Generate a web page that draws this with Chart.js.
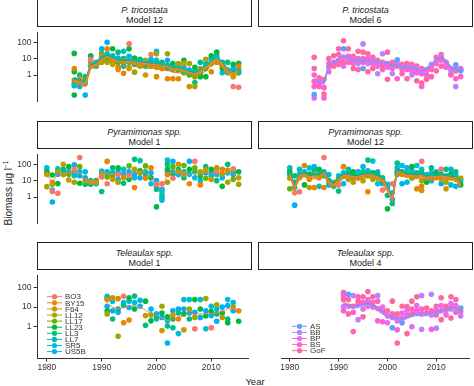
<!DOCTYPE html>
<html>
<head>
<meta charset="utf-8">
<script src="https://cdn.jsdelivr.net/npm/chart.js@4.4.1/dist/chart.umd.min.js"></script>
<style>
  body { margin: 0; width: 474px; height: 386px; position: relative; overflow: hidden; background: #fff;
         font-family: 'Liberation Sans', Arial, sans-serif; color: #1a1a1a; }
  canvas { position: absolute; }
  .strip { position: absolute; box-sizing: border-box; border: 1.5px solid #222; background: #fff;
           text-align: center; font-size: 9px; line-height: 10px; padding-top: 4.5px; height: 28px; }
  .strip i { display: block; }
  #ylab { position: absolute; left: 8px; top: 193px; transform: translate(-50%, -50%) rotate(-90deg);
          font-size: 10px; white-space: nowrap; }
  #ylab sup { font-size: 6.5px; }
  #xlab { position: absolute; left: 255px; top: 381px; transform: translate(-50%, -50%); font-size: 9.5px; }
</style>
</head>
<body>
<div id="ylab">Biomass µg l<sup>−1</sup></div>
<div id="xlab">Year</div>

<script>
// Stations and colours (ggplot hue palette, 15 stations)
const westStations = ['BO3', 'BY15', 'F64', 'LL12', 'LL17', 'LL23', 'LL3', 'LL7', 'SR5', 'US5B'];
const westColors = ['#F8766D', '#E58700', '#C99800', '#A3A500', '#6BB100', '#00BA38', '#00BF7D', '#00C0AF', '#00BCD8', '#00B0F6'];
const eastStations = ['AS', 'BB', 'BP', 'BS', 'GoF'];
const eastColors = ['#619CFF', '#B983FF', '#E76BF3', '#FD61D1', '#FF67A4'];

const xTicks = [1980, 1990, 2000, 2010];
const yTicks = [1, 10, 100];
const yTickLabels = ['1', '10', '100'];

const years85 = [1985,1986,1987,1988,1989,1990,1991,1992,1993,1994,1995,1996,1997,1998,1999,2000,2001,2002,2003,2004,2005,2006,2007,2008,2009,2010,2011,2012,2013,2014,2015];
const years80 = [1980,1981,1982,1983,1984,1985,1986,1987,1988,1989,1990,1991,1992,1993,1994,1995,1996,1997,1998,1999,2000,2001,2002,2003,2004,2005,2006,2007,2008,2009,2010,2011,2012,2013,2014,2015];
const years91 = [1991,1992,1993,1994,1995,1996,1997,1998,1999,2000,2001,2002,2003,2004,2005,2006,2007,2008,2009,2010,2011,2012,2013,2014,2015];

// Observations: [year, station index, biomass]
const triLeftObs = [
  [1985,5,21],[1985,1,2.5],[1985,5,1.6],[1985,8,0.3],[1985,9,0.22],[1985,5,0.06],[1985,3,0.5],
  [1986,6,1],[1986,2,0.45],[1986,9,0.2],[1986,8,0.35],[1986,1,0.6],
  [1987,6,0.8],[1987,8,0.3],[1987,9,0.06],[1987,4,0.5],
  [1988,5,15],[1988,0,9],[1988,3,6],[1988,8,3.5],[1988,9,13],[1988,2,4],
  [1989,9,4.4],[1989,6,3.5],[1989,4,5],[1989,8,6],
  [1990,9,40],[1990,2,16],[1990,6,8],[1990,8,12],[1990,5,20],[1990,3,6],
  [1991,9,100],[1991,1,40],[1991,8,20],[1991,6,10],[1991,3,6],[1991,5,14],[1991,7,8],
  [1992,5,40],[1992,9,15],[1992,8,8],[1992,2,4.5],[1992,6,12],[1992,3,7],
  [1993,6,25],[1993,9,11],[1993,1,2.2],[1993,3,3],[1993,8,7],[1993,5,6],
  [1994,8,28],[1994,5,10],[1994,1,1.3],[1994,9,3.5],[1994,6,6],[1994,3,8],
  [1995,0,80],[1995,5,40],[1995,9,14],[1995,6,6],[1995,2,2.5],[1995,8,9],
  [1996,5,11],[1996,9,6],[1996,3,1.5],[1996,8,8],[1996,6,4.5],[1996,2,6],
  [1997,6,9],[1997,8,6],[1997,2,3.5],[1997,9,7],[1997,5,4.5],
  [1998,3,8],[1998,9,5],[1998,2,1],[1998,8,6],[1998,6,3.5],[1998,5,7],
  [1999,0,18],[1999,9,9],[1999,5,5],[1999,8,6],[1999,3,3.5],
  [2000,9,28],[2000,3,20],[2000,8,8],[2000,1,0.8],[2000,6,5],[2000,2,3],
  [2001,6,6],[2001,9,3],[2001,8,5],[2001,3,4],[2001,1,2.5],
  [2002,3,20],[2002,9,8],[2002,8,2.5],[2002,1,0.6],[2002,6,4],[2002,5,3],
  [2003,5,5],[2003,9,2.2],[2003,1,0.6],[2003,8,3.5],[2003,3,2.5],
  [2004,3,5],[2004,8,2.2],[2004,1,0.6],[2004,9,3.5],[2004,6,2],
  [2005,5,8],[2005,9,2.2],[2005,6,1.4],[2005,8,3],[2005,2,5],
  [2006,3,5],[2006,8,1.4],[2006,2,0.2],[2006,9,2],[2006,5,1],
  [2007,5,3],[2007,9,1.2],[2007,3,0.2],[2007,6,0.35],[2007,8,1.8],[2007,4,0.8],
  [2008,6,6],[2008,9,1.8],[2008,5,0.8],[2008,8,1.3],[2008,3,2.5],
  [2009,3,9],[2009,8,3.5],[2009,5,0.8],[2009,9,5],[2009,6,2.5],
  [2010,5,15],[2010,9,8],[2010,1,1.6],[2010,8,11],[2010,3,5],
  [2011,5,25],[2011,8,11],[2011,3,6],[2011,9,15],[2011,6,9],
  [2012,9,5],[2012,5,2.7],[2012,8,1.4],[2012,3,4],[2012,6,6],
  [2013,6,6],[2013,9,1.4],[2013,8,2],[2013,1,1.8],
  [2014,5,4.5],[2014,2,0.8],[2014,0,0.2],[2014,8,1.5],[2014,9,2.5],
  [2015,5,5.3],[2015,1,3.5],[2015,6,1.4],[2015,0,0.18],[2015,8,2]
];

const triRightObs = [
  [1985,4,12],[1985,4,2.5],[1985,3,1],[1985,4,0.42],[1985,3,0.2],[1985,0,0.065],[1985,2,0.04],
  [1986,4,0.67],[1986,3,0.4],[1986,4,0.25],[1986,3,0.2],
  [1987,4,0.55],[1987,3,0.17],[1987,4,0.07],[1987,3,0.04],
  [1988,4,10],[1988,3,5],[1988,4,3],[1988,2,1.6],
  [1989,4,15],[1989,3,6],[1989,4,3.5],
  [1990,3,40],[1990,4,18],[1990,3,8],[1990,4,4.5],
  [1991,4,125],[1991,0,40],[1991,3,12],[1991,4,6],[1991,2,3.5],
  [1992,4,40],[1992,3,14],[1992,4,6],[1992,2,9],
  [1993,4,14],[1993,3,5],[1993,4,2.5],[1993,2,8],
  [1994,4,28],[1994,3,10],[1994,4,2.2],[1994,1,5],
  [1995,1,80],[1995,4,25],[1995,0,2.5],[1995,3,6],[1995,4,10],
  [1996,4,20],[1996,3,10],[1996,4,1.6],[1996,2,5],
  [1997,4,12],[1997,3,5],[1997,4,2.5],[1997,1,7],
  [1998,4,8],[1998,3,3.5],[1998,1,1.2],[1998,2,5],
  [1999,1,20],[1999,4,6],[1999,3,2.2],[1999,4,4],
  [2000,4,25],[2000,3,5],[2000,4,0.55],[2000,2,3],
  [2001,4,6],[2001,3,2.5],[2001,1,1.2],[2001,4,4],
  [2002,0,8.5],[2002,4,3.5],[2002,3,0.6],[2002,2,5],
  [2003,4,4.5],[2003,3,2.2],[2003,4,1.2],[2003,2,3],
  [2004,4,5],[2004,3,2.2],[2004,4,0.6],[2004,1,3],
  [2005,4,4.5],[2005,3,1.8],[2005,1,1],[2005,2,3],
  [2006,4,3.5],[2006,3,1.4],[2006,4,0.45],[2006,2,2.5],
  [2007,4,2.5],[2007,3,1.2],[2007,4,0.33],[2007,3,0.2],[2007,1,1.8],
  [2008,4,2.2],[2008,3,1],[2008,4,0.55],[2008,2,1.8],
  [2009,1,4.5],[2009,4,2.2],[2009,3,0.8],[2009,4,3],
  [2010,4,12],[2010,3,5],[2010,4,1.8],[2010,2,7],
  [2011,4,18],[2011,3,8],[2011,4,3.5],[2011,2,12],
  [2012,4,6],[2012,3,3],[2012,2,4],
  [2013,4,2.5],[2013,3,1],[2013,4,1.2],[2013,1,2],
  [2014,0,4.2],[2014,4,2.5],[2014,1,0.2],[2014,3,0.6],[2014,4,1.8],
  [2015,0,1.8],[2015,4,2.5],[2015,3,0.8],[2015,2,2]
];

const pyrLeftObs = [
  [1980,8,60],[1980,5,35],[1980,2,24],[1980,3,4.3],[1980,7,30],
  [1981,1,8],[1981,8,2.7],[1981,0,2.2],[1981,9,0.5],[1981,5,22],[1981,3,6],
  [1982,7,53],[1982,3,35],[1982,5,6.6],[1982,0,1.7],[1982,9,25],
  [1983,2,100],[1983,6,50],[1983,3,24],[1983,8,35],
  [1984,5,72],[1984,9,35],[1984,2,11],[1984,4,25],
  [1985,9,92],[1985,0,50],[1985,7,20],[1985,3,8],[1985,8,30],
  [1986,0,260],[1986,4,72],[1986,9,20],[1986,5,7],[1986,8,35],
  [1987,8,35],[1987,3,10],[1987,6,6],[1987,9,15],
  [1988,8,10],[1988,2,8],[1988,6,6],
  [1989,5,10],[1989,8,6.5],[1989,2,8],
  [1990,8,39],[1990,6,2.2],[1990,0,17],[1990,3,25],
  [1991,1,150],[1991,9,35],[1991,4,17],[1991,0,6.5],[1991,7,25],
  [1992,6,60],[1992,8,30],[1992,2,12],[1992,4,20],
  [1993,5,60],[1993,0,24],[1993,9,12],[1993,3,8],[1993,8,35],
  [1994,8,50],[1994,2,15],[1994,6,7],[1994,9,25],
  [1995,4,80],[1995,9,35],[1995,5,12],[1995,0,20],
  [1996,6,200],[1996,3,50],[1996,8,15],[1996,1,3.8],[1996,9,25],
  [1997,7,167],[1997,5,40],[1997,9,15],[1997,3,30],
  [1998,4,80],[1998,8,35],[1998,1,14],[1998,6,25],
  [1999,1,60],[1999,9,30],[1999,8,6.5],[1999,5,15],
  [2000,9,10],[2000,8,4.5],[2000,6,3],[2000,5,0.25],[2000,0,6],
  [2001,0,6.5],[2001,9,3],[2001,8,2.2],[2001,7,1.3],[2001,8,0.9],[2001,9,0.65],
  [2002,8,180],[2002,6,100],[2002,5,50],[2002,1,24],[2002,3,8],[2002,9,35],
  [2003,9,150],[2003,4,72],[2003,8,35],[2003,0,14],[2003,6,25],
  [2004,2,100],[2004,6,50],[2004,9,24],[2004,3,35],
  [2005,4,85],[2005,8,35],[2005,6,15],[2005,2,25],
  [2006,9,150],[2006,5,50],[2006,1,6.5],[2006,8,25],
  [2007,0,150],[2007,4,60],[2007,8,15],[2007,6,35],
  [2008,3,35],[2008,8,10],[2008,1,5.5],[2008,5,20],
  [2009,6,72],[2009,9,30],[2009,4,14],[2009,2,45],
  [2010,5,50],[2010,9,30],[2010,2,12],[2010,8,20],
  [2011,3,60],[2011,8,24],[2011,6,10],[2011,0,35],
  [2012,1,50],[2012,9,15],[2012,5,4.5],[2012,3,25],
  [2013,6,100],[2013,8,30],[2013,3,8],[2013,2,45],
  [2014,0,53],[2014,9,24],[2014,4,12],[2014,7,35],
  [2015,5,35],[2015,2,15],[2015,3,6]
];

const pyrRightObs = [
  [1980,8,60],[1980,5,35],[1980,3,14],[1980,4,3.2],[1980,7,25],
  [1981,6,20],[1981,8,3.8],[1981,0,1.8],[1981,9,0.32],[1981,5,8],
  [1982,7,50],[1982,1,15],[1982,0,2.1],[1982,8,25],
  [1983,2,85],[1983,9,35],[1983,5,5.5],[1983,6,25],
  [1984,8,60],[1984,1,12],[1984,2,3.8],[1984,5,25],
  [1985,9,72],[1985,3,24],[1985,1,3.8],[1985,6,40],
  [1986,5,50],[1986,2,15],[1986,8,4.5],[1986,7,25],
  [1987,0,260],[1987,9,35],[1987,1,3.8],[1987,6,20],
  [1988,8,24],[1988,5,10],[1988,9,5.5],
  [1989,9,6.5],[1989,6,4.5],[1989,3,8],
  [1990,8,20],[1990,0,5.5],[1990,6,2.3],[1990,5,12],
  [1991,1,72],[1991,6,20],[1991,9,6.5],[1991,8,30],
  [1992,7,50],[1992,5,24],[1992,3,12],[1992,9,35],
  [1993,5,35],[1993,8,15],[1993,2,8],[1993,6,25],
  [1994,9,35],[1994,3,14],[1994,8,25],
  [1995,8,72],[1995,5,24],[1995,2,10],[1995,6,35],
  [1996,6,180],[1996,9,40],[1996,1,2.1],[1996,5,20],
  [1997,8,160],[1997,5,30],[1997,3,12],[1997,6,25],
  [1998,9,35],[1998,2,14],[1998,8,6.5],[1998,5,22],
  [1999,6,15],[1999,8,6.5],[1999,0,2.7],[1999,5,10],
  [2000,9,3.8],[2000,6,1.3],[2000,5,0.19],[2000,8,6],
  [2001,0,6.5],[2001,8,1.8],[2001,9,0.72],[2001,6,0.4],
  [2002,6,120],[2002,9,60],[2002,8,24],[2002,5,35],
  [2003,8,85],[2003,5,35],[2003,9,6.5],[2003,3,25],
  [2004,9,60],[2004,1,24],[2004,8,8],[2004,6,30],
  [2005,5,72],[2005,9,30],[2005,3,14],[2005,8,40],
  [2006,8,85],[2006,6,30],[2006,1,3.2],[2006,9,20],
  [2007,0,150],[2007,8,50],[2007,3,10],[2007,1,4.5],[2007,2,2.5],[2007,6,30],
  [2008,9,24],[2008,5,8],[2008,8,15],
  [2009,6,60],[2009,1,15],[2009,9,10],[2009,8,30],
  [2010,8,35],[2010,3,15],[2010,5,25],
  [2011,0,50],[2011,2,12],[2011,9,6.5],[2011,6,25],
  [2012,6,50],[2012,3,8],[2012,2,3.2],[2012,8,20],
  [2013,9,50],[2013,3,15],[2013,8,5.5],[2013,5,25],
  [2014,6,35],[2014,2,12],[2014,8,4.5],[2014,9,20],
  [2015,3,14],[2015,5,5.5],[2015,8,10]
];

const telLeftObs = [
  [1991,8,35],[1991,1,24],[1991,9,11],[1991,5,6.5],[1991,3,4.5],[1991,6,28],
  [1992,2,30],[1992,9,6.5],[1992,6,2.5],[1992,8,20],
  [1993,1,27],[1993,9,5.5],[1993,3,0.33],[1993,6,8],
  [1994,0,35],[1994,8,17],[1994,1,1.6],[1994,6,12],
  [1995,5,30],[1995,9,9.5],[1995,1,2.2],[1995,8,20],
  [1996,6,36],[1996,8,17],[1996,5,8],
  [1997,9,22],[1997,8,11],
  [1998,5,20],[1998,2,3.7],[1998,6,1.2],
  [1999,9,8],[1999,5,2],[1999,3,4],
  [2000,9,4.5],[2000,8,2.5],[2000,6,3],
  [2001,3,11],[2001,9,3],[2001,2,0.65],[2001,5,5],
  [2002,5,3.2],[2002,6,1.1],[2002,9,0.15],[2002,8,2],
  [2003,9,6.5],[2003,5,2.5],[2003,6,0.9],[2003,2,4],
  [2004,9,8],[2004,1,2.5],[2004,8,0.45],[2004,6,5],
  [2005,8,24],[2005,5,4.5],[2005,2,0.7],[2005,9,8],
  [2006,8,24],[2006,3,8],[2006,6,2.5],[2006,9,5],
  [2007,5,24],[2007,9,5.5],[2007,0,0.8],[2007,3,3],
  [2008,8,24],[2008,5,8],[2008,9,3],
  [2009,3,27],[2009,9,6.5],[2009,8,0.8],[2009,5,3.5],
  [2010,8,11],[2010,9,3.7],[2010,0,0.9],[2010,5,6],
  [2011,3,13],[2011,6,4.5],[2011,9,1.9],[2011,8,8],
  [2012,9,10],[2012,5,5],[2012,2,3],
  [2013,8,24],[2013,6,2.5],[2013,5,1.6],[2013,9,12],
  [2014,8,17],[2014,9,6.5],[2014,3,10],
  [2015,1,6.5],[2015,5,1.9]
];

const telRightObs = [
  [1991,4,55],[1991,3,38],[1991,4,24],[1991,2,10.5],[1991,3,6.5],
  [1992,0,45],[1992,4,24],[1992,3,11],[1992,4,4.5],
  [1993,1,38],[1993,4,11],[1993,3,5.5],[1993,4,0.57],
  [1994,4,33],[1994,3,13],[1994,1,2.3],[1994,4,20],
  [1995,4,33],[1995,3,17],[1995,4,3.2],[1995,2,8],
  [1996,4,62],[1996,3,24],[1996,4,11],[1996,2,18],
  [1997,4,33],[1997,3,17],[1997,2,10],
  [1998,1,38],[1998,4,8.5],[1998,3,2],[1998,4,20],
  [1999,4,6.5],[1999,3,1.8],[1999,2,10],
  [2000,4,6.5],[2000,3,3.5],[2000,2,1.6],
  [2001,4,20],[2001,3,4.5],[2001,0,0.9],[2001,2,3],
  [2002,4,4.5],[2002,3,0.7],[2002,4,0.15],[2002,2,2],
  [2003,4,11],[2003,3,2.8],[2003,0,1.6],[2003,2,5],
  [2004,4,10.5],[2004,3,4],[2004,4,0.45],[2004,2,7],
  [2005,4,20],[2005,3,4.5],[2005,2,1],[2005,4,8],
  [2006,4,33],[2006,3,6.5],[2006,2,12],
  [2007,1,38],[2007,4,4.5],[2007,1,0.75],[2007,3,8],
  [2008,4,9],[2008,3,5],
  [2009,1,45],[2009,4,6.5],[2009,3,0.75],[2009,2,4],
  [2010,4,11],[2010,3,4],[2010,1,0.85],[2010,2,7],
  [2011,4,30],[2011,3,6.5],[2011,4,2.3],[2011,2,12],
  [2012,4,11],[2012,3,4],[2012,2,7],
  [2013,4,33],[2013,3,8],[2013,4,2.8],[2013,2,15],
  [2014,4,24],[2014,3,5.5],[2014,2,12],
  [2015,0,9],[2015,1,3.5],[2015,4,6]
];

// Fitted model lines, one row per station (or a single row for Model 1)
const triLeftFit = [
  [0.5,0.4,0.3,3.5,4.5,10,14,10,7,6.5,7,6,5.5,5,4.5,4.5,3.5,3.5,2.5,2.4,2,1.5,1.2,1.8,3,6,10,5,1.9,1.4,1.8],
  [0.3,0.25,0.2,2.5,3,6,8,6,4,3.5,3.8,3.3,3,2.8,2.6,2.6,2,2,1.5,1.4,1.2,0.9,0.75,1.1,1.8,3.6,6,3,1.1,0.85,1.1],
  [0.4,0.3,0.25,3,3.8,8,11,8,5.5,5,5.5,4.8,4.3,4,3.6,3.6,2.8,2.8,2,1.9,1.6,1.2,1,1.4,2.4,4.8,8,4,1.5,1.1,1.5],
  [0.45,0.35,0.3,3.3,4.2,9,12,9,6.3,5.7,6.2,5.3,4.8,4.5,4,4,3.2,3,2.2,2.1,1.8,1.3,1.1,1.6,2.7,5.4,9,4.5,1.7,1.25,1.6],
  [0.5,0.38,0.32,3.6,4.6,10,13,9.5,6.8,6.1,6.6,5.7,5.2,4.8,4.3,4.3,3.4,3.3,2.4,2.3,1.9,1.4,1.15,1.7,2.9,5.8,9.5,4.8,1.8,1.35,1.7],
  [0.55,0.42,0.35,4,5,11,15,11,7.5,6.8,7.3,6.3,5.8,5.3,4.8,4.8,3.8,3.7,2.7,2.5,2.1,1.6,1.3,1.9,3.2,6.4,10.5,5.3,2,1.5,1.9],
  [0.6,0.45,0.38,4.3,5.4,12,16,12,8,7.3,7.8,6.8,6.2,5.7,5.2,5.2,4.1,4,2.9,2.7,2.3,1.7,1.4,2,3.4,6.8,11,5.6,2.1,1.6,2],
  [0.62,0.47,0.4,4.5,5.6,12.5,17,12.5,8.5,7.7,8.2,7.1,6.5,6,5.4,5.4,4.3,4.2,3,2.8,2.4,1.8,1.5,2.1,3.6,7.2,11.5,5.9,2.2,1.7,2.1],
  [0.65,0.5,0.42,4.7,5.9,13,18,13,9,8.2,8.7,7.5,6.9,6.3,5.7,5.7,4.5,4.4,3.2,3,2.5,1.9,1.55,2.2,3.8,7.6,12,6.2,2.3,1.8,2.2],
  [0.7,0.55,0.45,5,6.3,14,19,14,9.5,8.6,9.2,8,7.3,6.7,6,6,4.8,4.6,3.4,3.2,2.7,2,1.65,2.3,4,8,13,6.5,2.4,1.9,2.3]
];

const triRightFit = [
  [0.55,0.42,0.34,4.2,6,9.5,15.5,10.8,8.4,7.8,8.4,7.8,7.2,6,6,5.4,4.2,4.2,3.4,3.1,2.9,2.4,1.9,2.4,4.2,8.4,13,7.2,3,2.2,2.9],
  [0.6,0.47,0.38,4.7,6.7,10.7,17,12,9.4,8.7,9.4,8.7,8,6.7,6.7,6,4.7,4.7,3.7,3.5,3.2,2.7,2.1,2.7,4.7,9.4,14.7,8,3.3,2.4,3.2],
  [0.5,0.39,0.31,3.9,5.6,9,14.5,10,7.8,7.3,7.8,7.3,6.7,5.6,5.6,5,3.9,3.9,3.1,2.9,2.7,2.2,1.8,2.2,3.9,7.8,12.3,6.7,2.8,2,2.7],
  [0.47,0.37,0.29,3.7,5.3,8.5,13.7,9.5,7.4,6.8,7.4,6.8,6.3,5.3,5.3,4.7,3.7,3.7,2.9,2.7,2.5,2.1,1.7,2.1,3.7,7.4,11.6,6.3,2.6,1.9,2.5],
  [0.45,0.35,0.28,3.5,5,8,13,9,7,6.5,7,6.5,6,5,5,4.5,3.5,3.5,2.8,2.6,2.4,2,1.6,2,3.5,7,11,6,2.5,1.8,2.4]
];

const pyrLeftFit = [
  [25,7.5,28,30,30,30,32,10,8,12,25,28,25,26,25,26,28,38,30,16,5.3,3,24,32,33,33,22,32,18,30,30,30,30,28,28,14]
];

const pyrRightFit = [
  [26,4,21,26,17,19,19,30,8.5,5.5,12,21,21,17,17,21,24,21,17,12,3.3,0.8,39,30,21,21,19,21,15,19,17,19,17,15,15,5.5],
  [18,2.7,14,18,12,13,13,21,6,3.9,8.4,14,14,12,12,14,17,14,12,8.4,2.3,0.55,27,21,15,15,13,15,11,13,12,13,12,11,11,3.9],
  [21,3.2,17,21,14,15,15,25,7,4.6,10,17,17,14,14,17,20,17,14,10,2.7,0.63,32,25,18,18,15,18,13,15,14,15,14,13,13,4.6],
  [24,3.6,19,24,16,18,18,28,8,5.2,11,19,19,16,16,19,22,19,16,11,3,0.72,36,28,20,20,18,20,14,18,16,18,16,14,14,5.2],
  [27,4,22,27,18,20,20,31,9,5.8,12.5,22,22,18,18,22,25,22,18,12.5,3.4,0.8,40,31,22,22,20,22,16,20,18,20,18,16,16,5.8],
  [30,4.5,24,30,20,22,22,35,10,6.5,14,24,24,20,20,24,28,24,20,14,3.8,0.9,45,35,25,25,22,25,18,22,20,22,20,18,18,6.5],
  [32,4.8,26,32,21,23,23,37,10.5,7,15,26,26,21,21,26,30,26,21,15,4,0.95,48,37,26,26,23,26,19,23,21,23,21,19,19,7],
  [33,5,27,33,22,24,24,39,11,7.2,15.5,27,27,22,22,27,31,27,22,15.5,4.2,1,50,39,28,28,24,28,20,24,22,24,22,20,20,7.2],
  [35,5.3,28,35,23,26,26,41,11.5,7.6,16,28,28,23,23,28,33,28,23,16,4.4,1.05,52,41,29,29,26,29,21,26,23,26,23,21,21,7.6],
  [36,5.5,29,36,24,27,27,42,12,8,17,29,29,24,24,29,34,29,24,17,4.6,1.1,54,42,30,30,27,30,22,27,24,27,24,22,22,8]
];

const telLeftFit = [
  [15,10,8,10,11,12,10,7,4.5,3.7,2.8,2,2.3,3,3.6,4.6,4.6,4.5,4.6,4.8,5,6,8.5,7.5,6.5]
];

const telRightFit = [
  [14,11.6,10.7,12.4,14,14.9,12.4,8.3,5.4,3.7,3.1,2.7,2.5,3.1,4,4.5,4.5,4.5,5,5.4,6.2,7.4,9.1,8.3,6.6],
  [11.5,9.5,8.8,10.2,11.5,12.2,10.2,6.8,4.4,3.1,2.6,2.2,2,2.6,3.3,3.7,3.7,3.7,4.1,4.4,5.1,6.1,7.5,6.8,5.4],
  [13,10.8,10,11.6,13,13.9,11.6,7.7,5,3.5,2.9,2.5,2.3,2.9,3.7,4.2,4.2,4.2,4.6,5,5.8,6.9,8.5,7.7,6.2],
  [15,12.5,11.5,13.3,15,16,13.3,8.9,5.8,4,3.4,2.9,2.7,3.4,4.3,4.9,4.9,4.9,5.3,5.8,6.7,8,9.8,8.9,7.1],
  [17,14,13,15,17,18,15,10,6.5,4.5,3.8,3.3,3,3.8,4.8,5.5,5.5,5.5,6,6.5,7.5,9,11,10,8]
];

// Panel layout
const FONT = "'Liberation Sans', Arial, sans-serif";
const panels = [
  { species: 'P. tricostata', model: 'Model 12', left: 37, top: 28, obs: triLeftObs, fit: triLeftFit, years: years85, side: 'L', group: 'W', row: 0 },
  { species: 'P. tricostata', model: 'Model 6', left: 258, top: 28, obs: triRightObs, fit: triRightFit, years: years85, side: 'R', group: 'E', row: 0 },
  { species: 'Pyramimonas spp.', model: 'Model 1', left: 37, top: 150, obs: pyrLeftObs, fit: pyrLeftFit, years: years80, side: 'L', group: 'W', row: 1 },
  { species: 'Pyramimonas spp.', model: 'Model 12', left: 258, top: 150, obs: pyrRightObs, fit: pyrRightFit, years: years80, side: 'R', group: 'W', row: 1 },
  { species: 'Teleaulax spp.', model: 'Model 1', left: 37, top: 271, obs: telLeftObs, fit: telLeftFit, years: years91, side: 'L', group: 'W', row: 2 },
  { species: 'Teleaulax spp.', model: 'Model 4', left: 258, top: 271, obs: telRightObs, fit: telRightFit, years: years91, side: 'R', group: 'E', row: 2 }
];
const PW = 215, PH = 87, YAXW = 23, XAXH = 14;

// Legend drawn inside a panel
const panelLegend = {
  id: 'panelLegend',
  afterDatasetsDraw(chart, args, opts) {
    if (!opts.items) return;
    const ctx = chart.ctx, a = chart.chartArea;
    ctx.save();
    ctx.font = '8px ' + FONT;
    ctx.textBaseline = 'middle';
    opts.items.forEach((name, i) => {
      const x0 = a.left + opts.left, y = a.top + opts.top + i * 6.1;
      ctx.strokeStyle = opts.colors[i];
      ctx.lineWidth = 1;
      ctx.beginPath(); ctx.moveTo(x0, y); ctx.lineTo(x0 + 15, y); ctx.stroke();
      ctx.fillStyle = opts.colors[i];
      ctx.beginPath(); ctx.arc(x0 + 7.5, y, 2.6, 0, Math.PI * 2); ctx.fill();
      ctx.fillStyle = '#333';
      ctx.fillText(name, x0 + 18, y + 0.5);
    });
    ctx.restore();
  }
};

panels.forEach(p => {
  const isL = p.side === 'L';
  const bottom = p.row === 2;
  const names = p.group === 'W' ? westStations : eastStations;
  const colors = p.group === 'W' ? westColors : eastColors;

  // strip
  const strip = document.createElement('div');
  strip.className = 'strip';
  strip.style.left = p.left + 'px';
  strip.style.width = PW + 'px';
  strip.style.top = (p.top - 29) + 'px';
  strip.innerHTML = '<i>' + p.species + '</i>' + p.model;
  document.body.appendChild(strip);

  const cv = document.createElement('canvas');
  const cw = PW + (isL ? YAXW : 0), ch = PH + (bottom ? XAXH : 0);
  cv.width = cw; cv.height = ch;
  cv.style.width = cw + 'px'; cv.style.height = ch + 'px';
  cv.style.left = (p.left - (isL ? YAXW : 0)) + 'px';
  cv.style.top = p.top + 'px';
  document.body.appendChild(cv);

  const datasets = [];
  names.forEach((n, s) => {
    datasets.push({
      type: 'scatter', label: n, order: 2,
      data: p.obs.filter(o => o[1] === s).map(o => ({ x: o[0], y: o[2] })),
      backgroundColor: colors[s], borderWidth: 0, pointRadius: 2.8
    });
  });
  p.fit.forEach((row, s) => {
    datasets.push({
      type: 'line', label: 'fit ' + s, order: 1,
      data: p.years.map((y, i) => ({ x: y, y: row[i] })),
      borderColor: p.fit.length === 1 ? '#F8766D' : colors[s],
      borderWidth: p.fit.length === 1 ? 0.9 : 1.1, pointRadius: 0, tension: 0, fill: false
    });
  });

  const axisGrid = { display: true, drawOnChartArea: false, drawTicks: true, tickLength: 3.5, color: '#333', lineWidth: 1 };
  const noPad = s => { s.paddingTop = 0; s.paddingBottom = 0; s.paddingLeft = 0; s.paddingRight = 0; };

  new Chart(cv, {
    data: { datasets },
    options: {
      responsive: false, animation: false, events: [],
      layout: { padding: 0 },
      plugins: {
        legend: { display: false }, tooltip: { enabled: false },
        panelLegend: bottom ? { items: names, colors, left: isL ? 10 : 11, top: isL ? 21.7 : 51.3 } : {}
      },
      scales: {
        x: {
          type: 'linear', min: 1978.2, max: 2016.7, display: bottom,
          afterBuildTicks: s => { s.ticks = xTicks.map(v => ({ value: v })); },
          afterFit: s => { s.height = XAXH; noPad(s); },
          grid: axisGrid,
          border: { display: true, color: '#333', width: 1 },
          ticks: { font: { size: 8.5, family: FONT }, color: '#333', padding: 1, maxRotation: 0, autoSkip: false,
                   callback: v => String(v) }
        },
        y: {
          type: 'logarithmic', min: 0.026, max: 425, display: isL,
          afterBuildTicks: s => { s.ticks = yTicks.map(v => ({ value: v })); },
          afterFit: s => { s.width = YAXW; noPad(s); },
          grid: axisGrid,
          border: { display: true, color: '#333', width: 1 },
          ticks: { font: { size: 8.5, family: FONT }, color: '#333', padding: 2, autoSkip: false,
                   callback: v => { const i = yTicks.indexOf(v); return i >= 0 ? yTickLabels[i] : ''; } }
        }
      }
    },
    plugins: [panelLegend]
  });
});
</script>
</body>
</html>
